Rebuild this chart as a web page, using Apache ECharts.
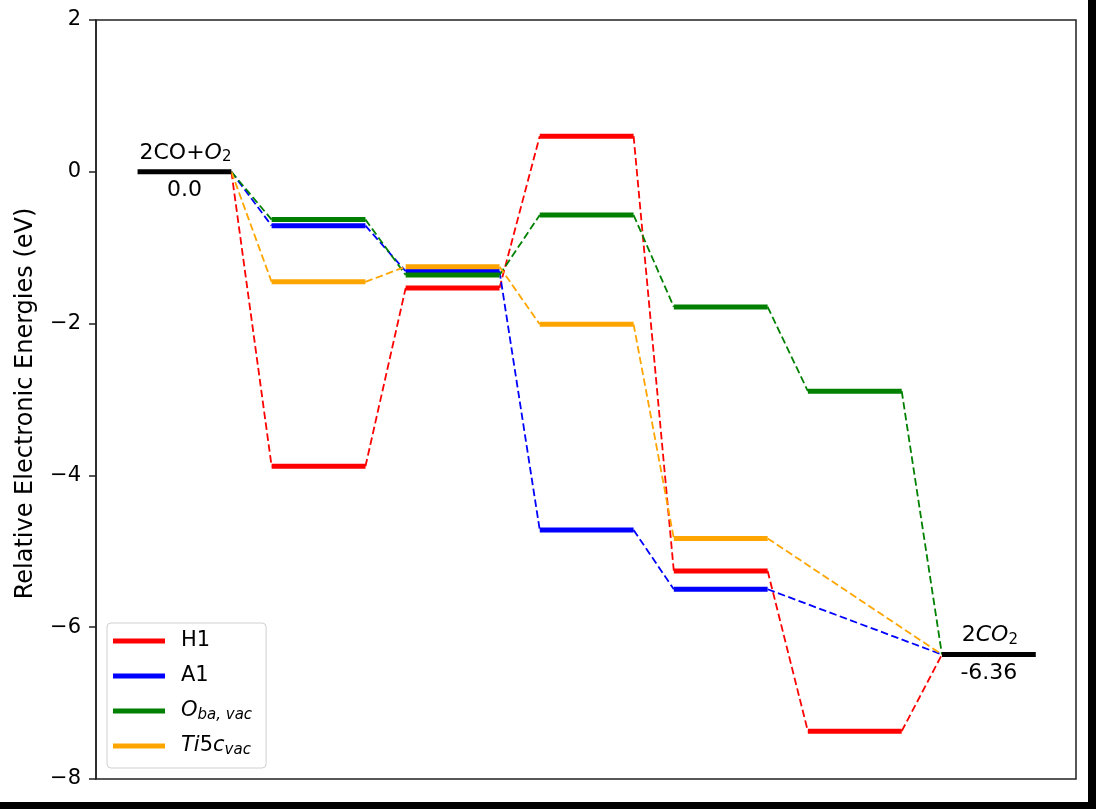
<!DOCTYPE html>
<html>
<head>
<meta charset="utf-8">
<script src="https://cdn.jsdelivr.net/npm/echarts@6/dist/echarts.min.js"></script>
<style>
html,body{margin:0;padding:0;background:#fff;}
#chart{width:1096px;height:809px;}
</style>
</head>
<body>
<div id="chart"></div>
<script>
// ---- data ----
const startStep = 0;
const endStep = 6;
const startEnergy = 0.0;
const endEnergy = -6.36;
const seriesNames = ['H1', 'A1', 'Oba', 'Ti5c'];
// intermediate states at steps 1..5 (null = state not present)
const H1 = [-3.88, -1.53, 0.47, -5.26, -7.37];
const A1 = [-0.71, -1.31, -4.72, -5.50, null];
const Oba = [-0.63, -1.36, -0.57, -1.78, -2.89];
const Ti5c = [-1.45, -1.25, -2.01, -4.83, null];
const refTopLabels = ['2CO+{i|O}{s|2}', '2{i|CO}{s|2}'];
const refValueLabels = ['0.0', '-6.36'];
const legendLabels = {
  H1: 'H1',
  A1: 'A1',
  Oba: '{i|O}{si|ba, vac}',
  Ti5c: '{i|Ti}5{i|c}{si|vac}'
};
const yMin = -8, yMax = 2, yInterval = 2;

// ---- styling constants ----
const levelWidth = 0.7;
const colors = { H1: '#ff0000', A1: '#0000ff', Oba: '#008000', Ti5c: '#ffa500' };
const FONT = 'DejaVu Sans';

function buildData(arr) {
  const d = [[startStep, startEnergy]];
  arr.forEach((v, k) => { if (v !== null) d.push([k + 1, v]); });
  d.push([endStep, endEnergy]);
  return d;
}

function makeRender(color, n) {
  return function (params, api) {
    const i = params.dataIndexInside;
    const x = api.value(0), y = api.value(1);
    const children = [];
    if (i > 0) {
      const px = api.value(0, i - 1), py = api.value(1, i - 1);
      const a = api.coord([px + levelWidth, py]);
      const b = api.coord([x, y]);
      children.push({
        type: 'line',
        shape: { x1: a[0], y1: a[1], x2: b[0], y2: b[1] },
        style: { stroke: color, lineWidth: 1.8, lineDash: [7.5, 3.5], fill: null }
      });
    }
    if (i > 0 && i < n - 1) {
      const p1 = api.coord([x, y]);
      const p2 = api.coord([x + levelWidth, y]);
      children.push({
        type: 'line',
        shape: { x1: p1[0], y1: p1[1], x2: p2[0], y2: p2[1] },
        style: { stroke: color, lineWidth: 5, lineCap: 'butt', fill: null }
      });
    }
    return { type: 'group', children: children };
  };
}

const dataMap = { H1: H1, A1: A1, Oba: Oba, Ti5c: Ti5c };
const series = seriesNames.map(name => {
  const data = buildData(dataMap[name]);
  return {
    name: name,
    type: 'custom',
    data: data,
    itemStyle: { color: colors[name] },
    renderItem: makeRender(colors[name], data.length),
    z: 2
  };
});

const richText = {
  i: { fontStyle: 'italic', fontSize: 22, fontFamily: FONT, color: '#000', fill: '#000', lineHeight: 24 },
  s: { fontSize: 15, fontFamily: FONT, color: '#000', fill: '#000', verticalAlign: 'bottom', lineHeight: 14 },
  si: { fontSize: 15, fontStyle: 'italic', fontFamily: FONT, color: '#000', fill: '#000', verticalAlign: 'bottom', lineHeight: 14 }
};
const richLegend = {
  i: { fontStyle: 'italic', fontSize: 21, fontFamily: FONT, color: '#000', lineHeight: 24 },
  s: { fontSize: 15, fontFamily: FONT, color: '#000', verticalAlign: 'bottom', lineHeight: 14 },
  si: { fontSize: 15, fontStyle: 'italic', fontFamily: FONT, color: '#000', verticalAlign: 'bottom', lineHeight: 14 }
};

const refData = [[startStep, startEnergy], [endStep, endEnergy]];
series.push({
  name: 'ref',
  type: 'custom',
  data: refData,
  itemStyle: { color: '#000' },
  z: 3,
  renderItem: function (params, api) {
    const i = params.dataIndexInside;
    const x = api.value(0), y = api.value(1);
    const p1 = api.coord([x, y]);
    const p2 = api.coord([x + levelWidth, y]);
    const cx = (p1[0] + p2[0]) / 2;
    return {
      type: 'group',
      children: [
        {
          type: 'line',
          shape: { x1: p1[0], y1: p1[1], x2: p2[0], y2: p2[1] },
          style: { stroke: '#000', lineWidth: 5, lineCap: 'butt', fill: null }
        },
        {
          type: 'text',
          x: cx + 1, y: p1[1] - 19,
          style: {
            text: refTopLabels[i], rich: richText,
            fontSize: 22, fontFamily: FONT, fill: '#000', lineHeight: 24,
            align: 'center', verticalAlign: 'middle',
            textAlign: 'center', textVerticalAlign: 'middle'
          }
        },
        {
          type: 'text',
          x: cx, y: p1[1] + 18.5,
          style: {
            text: refValueLabels[i],
            fontSize: 22, fontFamily: FONT, fill: '#000',
            align: 'center', verticalAlign: 'middle',
            textAlign: 'center', textVerticalAlign: 'middle'
          }
        }
      ]
    };
  }
});

const chart = echarts.init(document.getElementById('chart'), null, { renderer: 'canvas' });
chart.setOption({
  animation: false,
  backgroundColor: '#fff',
  grid: {
    left: 96, right: 20, top: 20, bottom: 30,
    show: true, borderColor: '#222', borderWidth: 1.5, backgroundColor: 'transparent'
  },
  xAxis: {
    type: 'value', min: -0.31, max: 7.0,
    show: false
  },
  yAxis: {
    type: 'value', min: yMin, max: yMax, interval: yInterval,
    name: 'Relative Electronic Energies (eV)',
    nameLocation: 'middle',
    nameGap: 58,
    nameTextStyle: { fontSize: 24, fontFamily: FONT, color: '#000', padding: [0, 8, 0, 0] },
    axisLine: { show: true, onZero: false, lineStyle: { color: '#222', width: 1.5 } },
    axisTick: { show: true, inside: false, length: 7, lineStyle: { color: '#222', width: 1.5 } },
    axisLabel: {
      margin: 15, fontSize: 21, fontFamily: FONT, color: '#000',
      formatter: v => String(v).replace('-', '\u2212')
    },
    splitLine: { show: false }
  },
  legend: {
    data: seriesNames,
    orient: 'vertical',
    left: 107, top: 623,
    padding: [6, 14, 10, 6],
    itemGap: 11,
    itemWidth: 52,
    itemHeight: 5,
    icon: 'rect',
    borderColor: '#d0d0d0',
    borderWidth: 1,
    borderRadius: 4,
    backgroundColor: 'rgba(255,255,255,0.8)',
    formatter: name => legendLabels[name],
    textStyle: {
      fontSize: 21, fontFamily: FONT, color: '#000', lineHeight: 24,
      padding: [0, 0, 0, 11],
      rich: richLegend
    }
  },
  graphic: [
    { type: 'rect', shape: { x: 1088, y: 0, width: 8, height: 809 }, style: { fill: '#000' }, silent: true },
    { type: 'rect', shape: { x: 0, y: 802, width: 1096, height: 7 }, style: { fill: '#000' }, silent: true }
  ],
  series: series
});
</script>
</body>
</html>
